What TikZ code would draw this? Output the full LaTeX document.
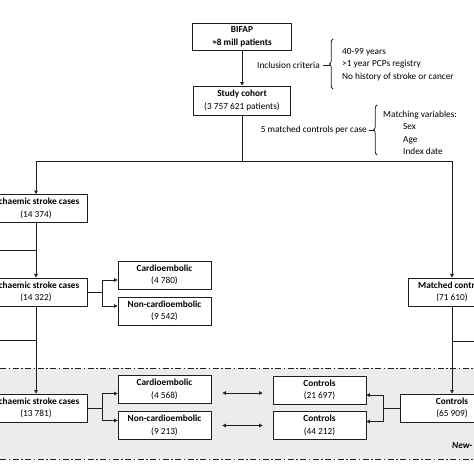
\documentclass[tikz,border=0pt]{standalone}
\usepackage{fontspec}
\setmainfont{Carlito}
\usepackage{tikz}
\usetikzlibrary{arrows.meta,decorations.pathreplacing}
\definecolor{ink}{HTML}{1E1E1E}
\definecolor{band}{HTML}{ECECEC}
\tikzset{
  box/.style={draw=ink, fill=white, line width=0.8pt, align=center, minimum height=28pt, inner sep=1pt, font=\fontsize{9.3}{12.5}\selectfont},
  wbox/.style={box, minimum width=93pt},
  ibox/.style={box, minimum width=102pt},
  link/.style={draw=ink, line width=0.8pt},
  arr/.style={link, -{Triangle[length=3.5pt,width=3.5pt]}},
  brc/.style={link, decorate, decoration={brace,amplitude=3.5pt}},
  note/.style={inner sep=0pt, align=left, font=\fontsize{9.3}{12.5}\selectfont},
  cut/.style={draw=ink, line width=0.8pt, dash pattern=on 6pt off 2.5pt on 1.5pt off 2.5pt}
}

\begin{document}
\begin{tikzpicture}[x=1pt,y=-1pt]
  \useasboundingbox (0,0) rectangle (474,474);
  \clip (0,0) rectangle (474,474);

  % new-users band
  \fill[band] (0,368) rectangle (474,459);
  \draw[cut] (0,368) -- (474,368);
  \draw[cut] (0,459) -- (474,459);

  \node[box, minimum width=99pt, minimum height=27pt] (bifap) at (242,36.5) {\textbf{BIFAP}\\\textbf{≈8 mill patients}};
  \node[box, minimum width=97pt, minimum height=29pt] (cohort) at (242,100.5) {\textbf{Study cohort}\\(3 757 621 patients)};

  \node[ibox] (isch1) at (36,208.5) {\textbf{Ischaemic stroke cases}\\(14 374)};
  \node[ibox] (isch2) at (36,292) {\textbf{Ischaemic stroke cases}\\(14 322)};
  \node[ibox] (isch3) at (36,408) {\textbf{Ischaemic stroke cases}\\(13 781)};
  \node[wbox] (cardioA) at (164.5,275) {\textbf{Cardioembolic}\\(4 780)};
  \node[wbox] (nonA) at (164.5,311) {\textbf{Non-cardioembolic}\\(9 542)};
  \node[wbox] (cardioB) at (164.5,389.5) {\textbf{Cardioembolic}\\(4 568)};
  \node[wbox] (nonB) at (164.5,425.5) {\textbf{Non-cardioembolic}\\(9 213)};
  \node[wbox] (ctrlA) at (319.5,390) {\textbf{Controls}\\(21 697)};
  \node[wbox] (ctrlB) at (319.5,425.5) {\textbf{Controls}\\(44 212)};
  \node[box, minimum width=88pt] (matched) at (452,292) {\textbf{Matched controls}\\(71 610)};
  \node[box, minimum width=104pt] (ctrlAll) at (452,408) {\textbf{Controls}\\(65 909)};

  \coordinate (split) at (242,161);
  \coordinate (caseTop) at (36,161);
  \coordinate (ctrlTop) at (452,161);
  \coordinate (outA) at (0,250);
  \coordinate (outB) at (0,340);
  \coordinate (outC) at (474,341);
  \coordinate (forkA) at (102,292);
  \coordinate (forkB) at (102,408);
  \coordinate (forkC) at (383,408);

  \draw[arr] (bifap) -- (cohort);
  \draw[link] (cohort) -- (split);
  \draw[link] (caseTop) -- (ctrlTop);
  \draw[arr] (caseTop) -- (isch1);
  \draw[arr] (ctrlTop) -- (matched);
  \draw[arr] (isch1) -- (isch2);
  \draw[arr] (isch2) -- (isch3);
  \draw[arr] (matched) -- (ctrlAll);
  \draw[link] (outA) -- (isch1.south |- outA);
  \draw[link] (outB) -- (isch2.south |- outB);
  \draw[link] (matched.south |- outC) -- (outC);

  % subtype forks
  \draw[link] (isch2.east) -- (forkA);
  \draw[arr] (forkA) |- ([yshift=-5pt]cardioA.west);
  \draw[arr] (forkA) |- ([yshift=5pt]nonA.west);
  \draw[link] (isch3.east) -- (forkB);
  \draw[arr] (forkB) |- ([yshift=-4pt]cardioB.west);
  \draw[arr] (forkB) |- ([yshift=5pt]nonB.west);
  \draw[link] (ctrlAll.west) -- (forkC);
  \draw[arr] (forkC) |- ([yshift=-5pt]ctrlA.east);
  \draw[arr] (forkC) |- ([yshift=4pt]ctrlB.east);
  \draw[link, {Triangle[length=3.5pt,width=3.5pt]}-{Triangle[length=3.5pt,width=3.5pt]}, shorten <=11pt, shorten >=10pt] ([yshift=-3.5pt]cardioB.east) -- ([yshift=-3pt]ctrlA.west);
  \draw[link, {Triangle[length=3.5pt,width=3.5pt]}-{Triangle[length=3.5pt,width=3.5pt]}, shorten <=11pt, shorten >=10pt] (nonB.east) -- (ctrlB.west);

  % criteria
  \node[note, anchor=east] (incl) at (320,65) {Inclusion criteria};
  \coordinate (inclTip) at (329.5,65);
  \draw[link] ([xshift=3pt]incl.east) -- (inclTip);
  \draw[brc] (333,89) -- (333,39);
  \node[note, anchor=west] (inclList) at (342,64.5) {40-99 years\\>1 year PCPs registry\\No history of stroke or cancer};

  \node[note, anchor=east] (match) at (367,130) {5 matched controls per case};
  \coordinate (matchTip) at (373.5,130);
  \draw[link] ([xshift=2pt]match.east) -- (matchTip);
  \draw[brc] (377,155) -- (377,105);
  \node[note, anchor=west] (matchList) at (383,133) {Matching variables:\\\hspace{20pt}Sex\\\hspace{20pt}Age\\\hspace{20pt}Index date};

  \node[note, anchor=west, font=\fontsize{9.3}{12.5}\selectfont\bfseries\itshape] (newtag) at (452,446) {New-};
\end{tikzpicture}
\end{document}
